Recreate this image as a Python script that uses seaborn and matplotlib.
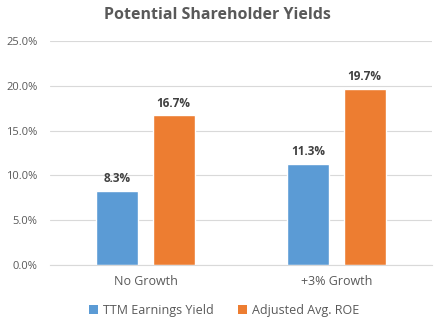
import matplotlib
matplotlib.use("Agg")
import matplotlib.pyplot as plt
import seaborn as sns
import pandas as pd
from matplotlib.ticker import FuncFormatter
from matplotlib.patches import Patch

categories = ["No Growth", "+3% Growth"]
series_names = ["TTM Earnings Yield", "Adjusted Avg. ROE"]
ttm_yield = [8.3, 11.3]
adj_roe = [16.7, 19.7]
yticks = [0, 5, 10, 15, 20, 25]

df = pd.DataFrame({
    "cat": categories * 2,
    "series": [series_names[0]] * 2 + [series_names[1]] * 2,
    "val": ttm_yield + adj_roe,
})

sns.set_theme(style="white")
plt.rcParams['font.family'] = ['Open Sans', 'DejaVu Sans']
colors = ["#5B9BD5", "#ED7D31"]
txt = "#595959"

fig = plt.figure(figsize=(4.35, 3.23), dpi=100)
ax = fig.add_axes([0.115, 0.1796, 0.878, 0.693])
sns.barplot(data=df, x="cat", y="val", hue="series", palette=colors,
            width=0.59, gap=0.25, ax=ax, legend=False, saturation=1)

ax.set_ylim(0, 25)
ax.set_yticks(yticks)
ax.yaxis.set_major_formatter(FuncFormatter(lambda v, p: f"{v:.1f}%"))
ax.grid(axis="y", color="#D9D9D9", linewidth=0.8)
ax.set_axisbelow(True)
for s in ["top", "right", "left"]:
    ax.spines[s].set_visible(False)
ax.spines["bottom"].set_color("#D9D9D9")
ax.spines["bottom"].set_linewidth(0.8)
ax.set_xlabel("")
ax.set_ylabel("")
ax.tick_params(axis="y", length=0, labelsize=8, labelcolor=txt, pad=9)
ax.tick_params(axis="x", length=0, labelsize=9, labelcolor=txt, pad=7)
ax.set_xlim(-0.5, 1.5)

for cont in ax.containers:
    ax.bar_label(cont, labels=[f"{b.get_height():.1f}%" for b in cont],
                 padding=4, fontsize=8.5, fontweight="bold", color="#404040")

fig.text(0.5, 0.955, "Potential Shareholder Yields", ha="center", va="center",
         fontsize=11.5, fontweight="bold", color=txt)

handles = [Patch(facecolor=c, edgecolor="none") for c in colors]
fig.legend(handles, series_names, loc="center", bbox_to_anchor=(0.515, 0.04),
           ncol=2, frameon=False, fontsize=9, labelcolor=txt,
           handlelength=0.7, handleheight=0.7, handletextpad=0.4, columnspacing=2.0)

fig.savefig("out.png", dpi=100)
